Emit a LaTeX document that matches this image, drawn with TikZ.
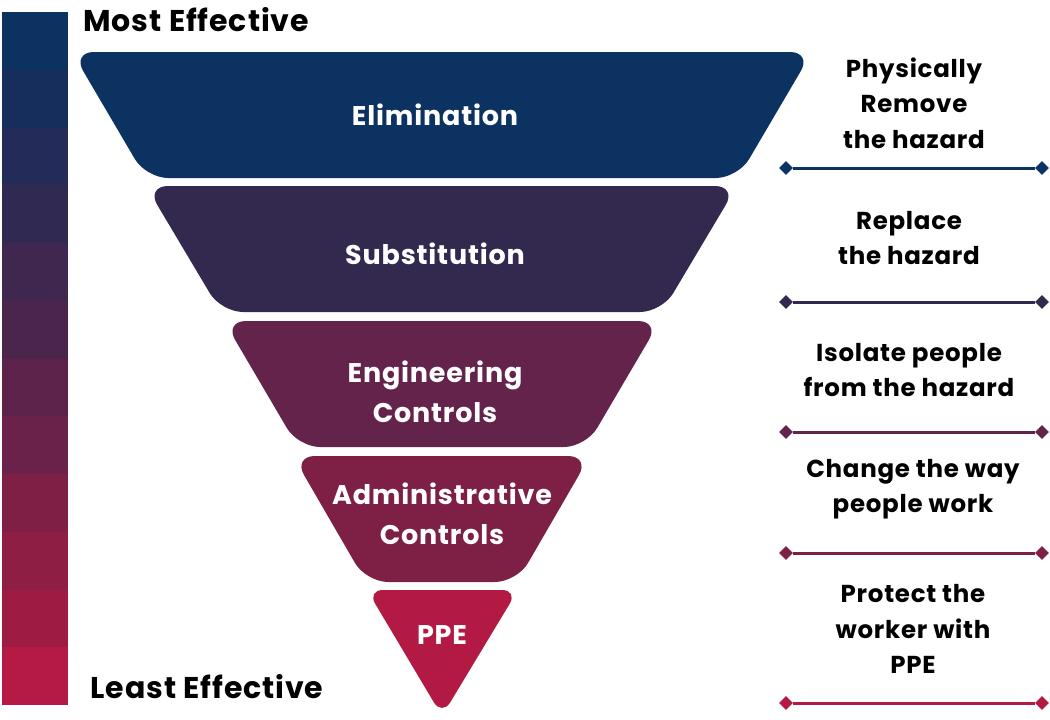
\documentclass[tikz,border=0pt]{standalone}
\usepackage{fontspec}
\setmainfont{Poppins}[LetterSpace=3]
\usetikzlibrary{shapes.geometric}
\begin{document}
\begin{tikzpicture}[x=1pt,y=-1pt,
  lvl/.style={rounded corners=22pt},
  lab/.style={text=white,font=\fontsize{27}{40}\selectfont\bfseries,align=center},
  desc/.style={font=\fontsize{24.5}{35.5}\selectfont\bfseries,align=center},
  side/.style={font=\fontsize{30}{30}\selectfont\bfseries,anchor=west},
  dia/.style={line width=3pt},
  dm/.style={diamond,fill,inner sep=0pt,minimum size=14pt}]
\useasboundingbox (0,0) rectangle (1050,720);
\definecolor{c0}{HTML}{0B3260}\definecolor{c1}{HTML}{33294F}
\definecolor{c2}{HTML}{64234B}\definecolor{c3}{HTML}{7E1F45}
\definecolor{c4}{HTML}{B21A44}
\foreach \i/\c in {0/0B3260,1/162E5C,2/232C58,3/302951,4/40274F,5/4C254D,6/5E234B,7/6B224A,8/7F1F46,9/8E1E44,10/9E1C43,11/B51A44}{
  \definecolor{tmp}{HTML}{\c}
  \fill[tmp] (2,{12+\i*57.75}) rectangle (68,{12+(\i+1)*57.75});
}
\node[side] (most) at (80,20) {Most Effective};
\node[side] (least) at (87,687) {Least Effective};
\fill[c0,lvl] (72,52) -- (812,52) -- (738,178) -- (146,178) -- cycle;
\fill[c1,lvl] (146,186) -- (737,186) -- (662,312) -- (221,312) -- cycle;
\fill[c2,lvl] (224,321) -- (660,321) -- (586,447) -- (298,447) -- cycle;
\fill[c3,lvl] (293,456) -- (590,456) -- (517,582) -- (366,582) -- cycle;
\fill[c4,rounded corners=16pt] (367,590) -- (518,590) -- (442,716) -- cycle;
\node[lab] (e) at (435,115) {Elimination};
\node[lab] (s) at (435,254) {Substitution};
\node[lab] (g) at (435,392) {Engineering\\Controls};
\node[lab] (a) at (442,514) {Administrative\\Controls};
\node[lab] (p) at (442,635) {PPE};
\node[desc] (d0) at (914,103) {Physically\\Remove\\the hazard};
\node[desc] (d1) at (909,238) {Replace\\the hazard};
\node[desc] (d2) at (909,370) {Isolate people\\from the hazard};
\node[desc] (d3) at (913,489) {Change the way\\people work};
\node[desc] (d4) at (913,629) {Protect the\\worker with\\PPE};
\foreach \y/\c [count=\k] in {168/c0,302/c1,432/c2,553/c3,703/c4}{
  \node[dm,fill=\c] (l\k) at (786,\y) {};
  \node[dm,fill=\c] (r\k) at (1042,\y) {};
  \draw[dia,\c] (l\k) -- (r\k);
}
\end{tikzpicture}
\end{document}
